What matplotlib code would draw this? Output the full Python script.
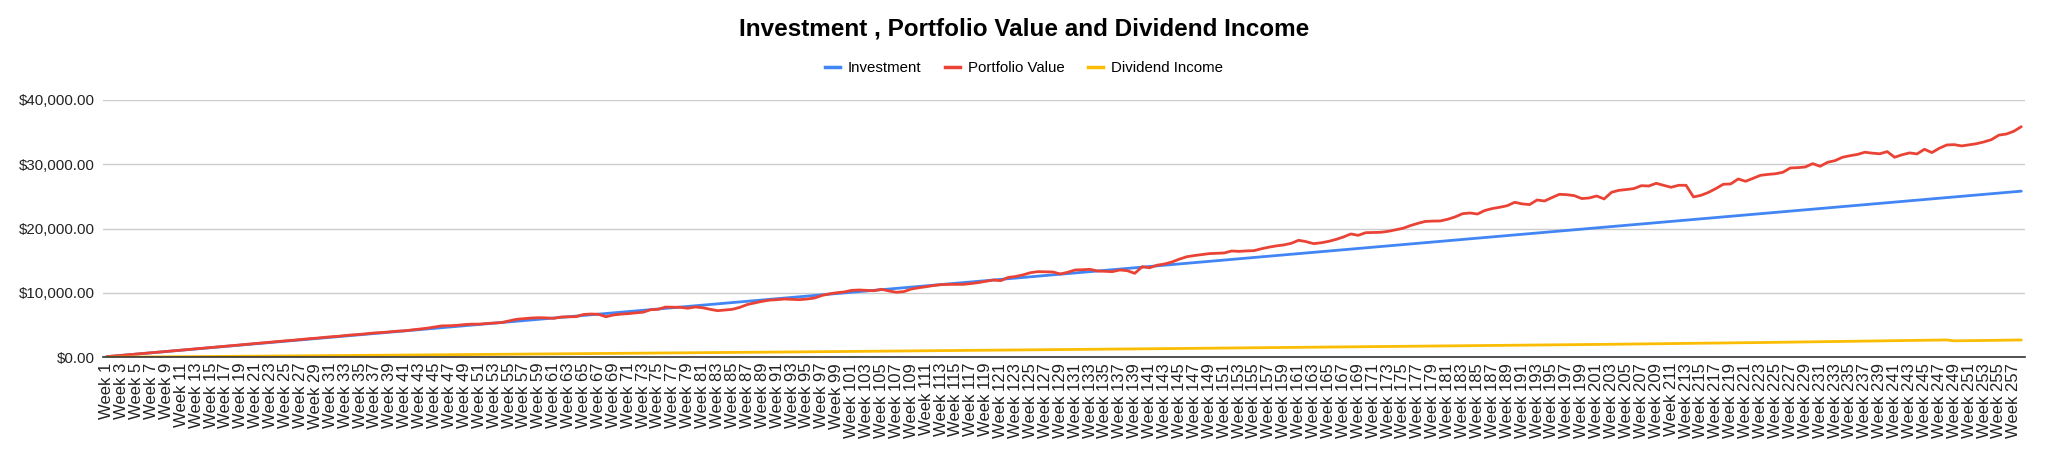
import matplotlib
matplotlib.use("Agg")
import matplotlib.pyplot as plt
from matplotlib.ticker import FuncFormatter
from matplotlib.lines import Line2D

weeks = [f"Week {i}" for i in range(1, 259)]

investment = [
    100, 200, 300, 400, 500, 600, 700, 800, 900, 1000,
    1100, 1200, 1300, 1400, 1500, 1600, 1700, 1800, 1900, 2000,
    2100, 2200, 2300, 2400, 2500, 2600, 2700, 2800, 2900, 3000,
    3100, 3200, 3300, 3400, 3500, 3600, 3700, 3800, 3900, 4000,
    4100, 4200, 4300, 4400, 4500, 4600, 4700, 4800, 4900, 5000,
    5100, 5200, 5300, 5400, 5500, 5600, 5700, 5800, 5900, 6000,
    6100, 6200, 6300, 6400, 6500, 6600, 6700, 6800, 6900, 7000,
    7100, 7200, 7300, 7400, 7500, 7600, 7700, 7800, 7900, 8000,
    8100, 8200, 8300, 8400, 8500, 8600, 8700, 8800, 8900, 9000,
    9100, 9200, 9300, 9400, 9500, 9600, 9700, 9800, 9900, 10000,
    10100, 10200, 10300, 10400, 10500, 10600, 10700, 10800, 10900, 11000,
    11100, 11200, 11300, 11400, 11500, 11600, 11700, 11800, 11900, 12000,
    12100, 12200, 12300, 12400, 12500, 12600, 12700, 12800, 12900, 13000,
    13100, 13200, 13300, 13400, 13500, 13600, 13700, 13800, 13900, 14000,
    14100, 14200, 14300, 14400, 14500, 14600, 14700, 14800, 14900, 15000,
    15100, 15200, 15300, 15400, 15500, 15600, 15700, 15800, 15900, 16000,
    16100, 16200, 16300, 16400, 16500, 16600, 16700, 16800, 16900, 17000,
    17100, 17200, 17300, 17400, 17500, 17600, 17700, 17800, 17900, 18000,
    18100, 18200, 18300, 18400, 18500, 18600, 18700, 18800, 18900, 19000,
    19100, 19200, 19300, 19400, 19500, 19600, 19700, 19800, 19900, 20000,
    20100, 20200, 20300, 20400, 20500, 20600, 20700, 20800, 20900, 21000,
    21100, 21200, 21300, 21400, 21500, 21600, 21700, 21800, 21900, 22000,
    22100, 22200, 22300, 22400, 22500, 22600, 22700, 22800, 22900, 23000,
    23100, 23200, 23300, 23400, 23500, 23600, 23700, 23800, 23900, 24000,
    24100, 24200, 24300, 24400, 24500, 24600, 24700, 24800, 24900, 25000,
    25100, 25200, 25300, 25400, 25500, 25600, 25700, 25800,
]

portfolio_value = [
    100, 200, 300, 400, 500, 600, 705, 810, 905, 1010,
    1110, 1215, 1320, 1415, 1520, 1625, 1720, 1830, 1935, 2030,
    2140, 2245, 2340, 2450, 2560, 2650, 2760, 2870, 2960, 3070,
    3180, 3260, 3370, 3490, 3560, 3670, 3790, 3850, 3950, 4060,
    4120, 4250, 4380, 4520, 4700, 4880, 4900, 4960, 5080, 5150,
    5150, 5250, 5330, 5400, 5650, 5900, 6000, 6100, 6150, 6120,
    6050, 6260, 6280, 6310, 6650, 6720, 6680, 6300, 6570, 6700,
    6780, 6900, 7000, 7390, 7450, 7800, 7780, 7760, 7620, 7810,
    7700, 7450, 7240, 7350, 7450, 7760, 8200, 8450, 8700, 8880,
    8950, 9050, 9000, 8950, 9050, 9200, 9600, 9850, 10030, 10150,
    10400, 10450, 10400, 10340, 10560, 10300, 10100, 10200, 10600, 10800,
    10960, 11150, 11280, 11320, 11330, 11330, 11450, 11600, 11800, 12000,
    11900, 12400, 12550, 12800, 13140, 13300, 13280, 13250, 12940, 13200,
    13560, 13600, 13660, 13400, 13350, 13300, 13560, 13450, 13040, 14070,
    13900, 14300, 14490, 14800, 15250, 15620, 15800, 15950, 16100, 16150,
    16200, 16510, 16450, 16520, 16560, 16850, 17100, 17300, 17450, 17700,
    18170, 17960, 17650, 17780, 18000, 18300, 18680, 19150, 18940, 19350,
    19380, 19410, 19560, 19800, 20030, 20450, 20800, 21100, 21150, 21170,
    21430, 21800, 22300, 22410, 22250, 22800, 23100, 23300, 23540, 24070,
    23820, 23710, 24430, 24270, 24800, 25310, 25250, 25100, 24650, 24740,
    25050, 24590, 25620, 25930, 26050, 26200, 26650, 26600, 27020, 26700,
    26400, 26710, 26710, 24900, 25150, 25600, 26200, 26870, 26920, 27690,
    27330, 27800, 28260, 28400, 28500, 28730, 29400, 29450, 29550, 30070,
    29660, 30280, 30540, 31060, 31300, 31500, 31840, 31700, 31600, 31940,
    31060, 31450, 31740, 31580, 32300, 31790, 32460, 32970, 33020, 32820,
    33000, 33170, 33450, 33800, 34500, 34670, 35100, 35810,
]

dividend_income = [
    8, 16, 24, 32, 41, 49, 57, 65, 73, 82,
    90, 98, 107, 115, 123, 132, 140, 148, 157, 165,
    174, 182, 191, 199, 208, 216, 225, 233, 242, 250,
    259, 268, 276, 285, 294, 303, 311, 320, 329, 338,
    347, 356, 364, 373, 382, 391, 400, 409, 418, 427,
    436, 445, 454, 463, 473, 482, 491, 500, 509, 518,
    527, 536, 545, 555, 564, 573, 583, 592, 601, 610,
    620, 629, 639, 648, 658, 667, 677, 686, 696, 705,
    715, 724, 734, 744, 753, 763, 772, 782, 792, 802,
    812, 822, 831, 841, 851, 861, 871, 881, 891, 900,
    910, 920, 930, 941, 951, 961, 971, 981, 992, 1002,
    1012, 1022, 1032, 1042, 1052, 1062, 1072, 1082, 1092, 1102,
    1113, 1123, 1134, 1144, 1155, 1165, 1176, 1186, 1197, 1207,
    1218, 1228, 1239, 1250, 1260, 1271, 1282, 1292, 1303, 1314,
    1323, 1334, 1345, 1356, 1367, 1378, 1389, 1399, 1410, 1421,
    1430, 1441, 1452, 1463, 1475, 1486, 1497, 1508, 1519, 1529,
    1540, 1551, 1563, 1574, 1585, 1597, 1608, 1619, 1630, 1642,
    1653, 1665, 1676, 1688, 1699, 1711, 1722, 1734, 1745, 1757,
    1765, 1776, 1788, 1800, 1812, 1823, 1835, 1847, 1858, 1870,
    1880, 1892, 1904, 1916, 1928, 1940, 1952, 1964, 1976, 1988,
    1997, 2009, 2021, 2034, 2046, 2058, 2070, 2082, 2094, 2106,
    2116, 2128, 2141, 2153, 2165, 2181, 2197, 2213, 2229, 2245,
    2261, 2277, 2293, 2309, 2325, 2341, 2357, 2373, 2389, 2405,
    2421, 2437, 2453, 2469, 2485, 2501, 2517, 2533, 2549, 2565,
    2581, 2597, 2613, 2629, 2645, 2661, 2677, 2693, 2560, 2570,
    2585, 2600, 2615, 2630, 2645, 2660, 2675, 2690,
]

series_names = ["Investment", "Portfolio Value", "Dividend Income"]
series_colors = ["#4285F4", "#EA4335", "#FBBC04"]
title = "Investment , Portfolio Value and Dividend Income"

plt.rcParams["font.family"] = ["Liberation Sans", "DejaVu Sans"]

W, H, DPI = 2048, 454, 100
fig = plt.figure(figsize=(W / DPI, H / DPI), dpi=DPI)
left, right = 103 / W, 2025 / W
bottom, top = 1 - 357.3 / H, 1 - 99.7 / H
ax = fig.add_axes([left, bottom, right - left, top - bottom])

x = list(range(len(weeks)))
for vals, name, col in zip([investment, portfolio_value, dividend_income], series_names, series_colors):
    ax.plot(x, vals, color=col, lw=2.0, label=name, solid_joinstyle="round", solid_capstyle="round")

ax.set_xlim(-0.5, len(weeks) - 0.5)
ax.set_ylim(0, 40000)
ax.set_yticks([0, 10000, 20000, 30000, 40000])
ax.yaxis.set_major_formatter(FuncFormatter(lambda v, p: f"${v:,.2f}"))
ax.grid(axis="y", color="#cccccc", lw=1.0)
ax.set_axisbelow(True)

ax.set_xticks(x[::2])
ax.set_xticklabels(weeks[::2], rotation=90, fontsize=12, color="#222222")
ax.tick_params(axis="x", length=0, pad=4)
ax.tick_params(axis="y", length=0, pad=6, labelsize=10.8, labelcolor="#222222")

for s in ["top", "right", "left"]:
    ax.spines[s].set_visible(False)
ax.spines["bottom"].set_color("#333333")
ax.spines["bottom"].set_linewidth(1.2)

fig.text(0.5, 1 - 29 / H, title, ha="center", va="center", fontsize=17.5, fontweight="bold", color="#000000")

handles = [Line2D([0], [0], color=c, lw=2.5) for c in series_colors]
fig.legend(handles, series_names, loc="center", bbox_to_anchor=(0.5, 1 - 68 / H), ncol=3,
           frameon=False, fontsize=10.8, handlelength=1.0, columnspacing=1.6, handletextpad=0.5)

fig.savefig("out.png", dpi=DPI)
